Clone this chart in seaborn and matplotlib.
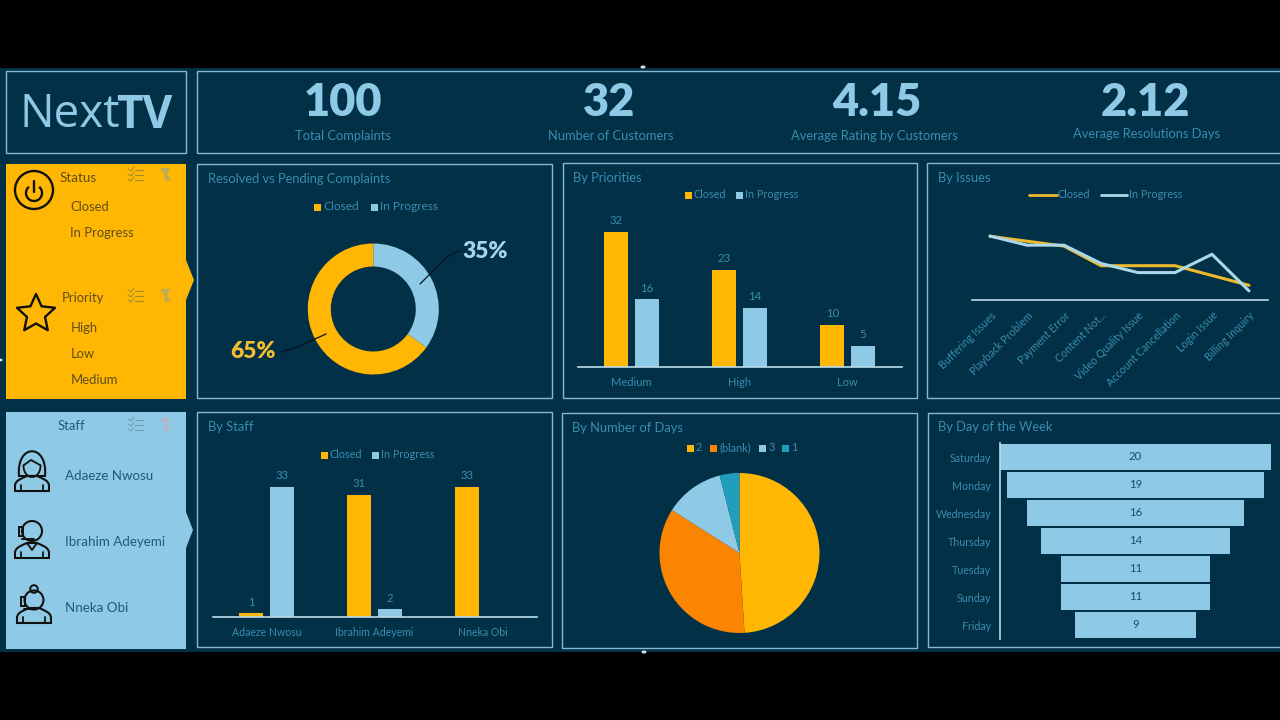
import matplotlib
matplotlib.use('Agg')
import matplotlib.pyplot as plt
import seaborn as sns
import pandas as pd
from matplotlib.patches import Rectangle, Circle, Ellipse, Polygon, Arc, PathPatch
from matplotlib.path import Path
import math

# data
kpi_values = ['100', '32', '4.15', '2.12']
kpi_labels = ['Total Complaints', 'Number of Customers', 'Average Rating by Customers', 'Average Resolutions Days']

status_names = ['In Progress', 'Closed']
status_share = [35, 65]

priority_names = ['Medium', 'High', 'Low']
priority_closed = [32, 23, 10]
priority_progress = [16, 14, 5]

issue_names = ['Buffering Issues', 'Playback Problem', 'Payment Error', 'Content Not...',
               'Video Quality Issue', 'Account Cancellation', 'Login Issue', 'Billing Inquiry']
issue_closed = [13, 12, 11, 7, 7, 7, 5, 3]
issue_progress = [7, 6, 6, 4, 3, 3, 5, 1]

staff_names = ['Adaeze Nwosu', 'Ibrahim Adeyemi', 'Nneka Obi']
staff_closed = [1, 31, 33]
staff_progress = [33, 2, None]

days_names = ['2', '(blank)', '3', '1']
days_share = [49, 35, 12, 4]

week_names = ['Saturday', 'Monday', 'Wednesday', 'Thursday', 'Tuesday', 'Sunday', 'Friday']
week_counts = [20, 19, 16, 14, 11, 11, 9]

# colours
BG = '#023047'
GOLD = '#FFB703'
ORANGE = '#FB8500'
SKY = '#8ECAE6'
TEAL = '#219EBC'
BORDER = '#84BAD4'
LABEL = '#3A8DAD'
AXIS = '#BBDCEB'
W, H = 1280, 720

sns.set_theme(style='white', rc={'axes.facecolor': 'none', 'figure.facecolor': 'black'})
plt.rcParams['font.family'] = ['Lato', 'DejaVu Sans']

fig = plt.figure(figsize=(W / 100, H / 100), dpi=100)


def px_axes(left, top, right, bottom, zorder=2):
    ax = fig.add_axes([left / W, 1 - bottom / H, (right - left) / W, (bottom - top) / H], zorder=zorder)
    ax.patch.set_alpha(0)
    return ax


def clean(ax, keep=('bottom',)):
    for name, spine in ax.spines.items():
        spine.set_visible(name in keep)
        spine.set_color(AXIS)
        spine.set_linewidth(1.2)
    ax.set_xlabel('')
    ax.set_ylabel('')


# back layer holds the panels, front layer holds text and icons
back = px_axes(0, 0, W, H, zorder=0)
back.set_xlim(0, W)
back.set_ylim(H, 0)
back.axis('off')
front = px_axes(0, 0, W, H, zorder=10)
front.set_xlim(0, W)
front.set_ylim(H, 0)
front.axis('off')

back.add_patch(Rectangle((0, 68), W, 584, color=BG, lw=0))
panels = [(6, 71, 186, 153), (197, 71, 1290, 153), (197, 164, 552, 398), (563, 163, 917, 398),
          (927, 163, 1290, 398), (197, 412, 552, 647), (562, 413, 917, 648), (928, 413, 1290, 647)]
for x0, y0, x1, y1 in panels:
    back.add_patch(Rectangle((x0, y0), x1 - x0, y1 - y0, fill=False, ec=BORDER, lw=1))

back.add_patch(Polygon([(6, 164), (186, 164), (186, 260), (194, 280), (186, 300), (186, 399), (6, 399)],
                       color=GOLD, lw=0))
back.add_patch(Polygon([(6, 412), (186, 412), (186, 512), (193, 530), (186, 548), (186, 649), (6, 649)],
                       color=SKY, lw=0))
# small handles on the frame of the screenshot
for hx, hy in [(643, 67), (644, 652), (0, 360)]:
    back.add_patch(Ellipse((hx, hy), 5, 3, color='#D8E4EA', lw=0))


def txt(x, y, s, size=8.8, color=LABEL, ha='left', weight='normal', **kw):
    return front.text(x, y, s, fontsize=size, color=color, ha=ha, va='center', fontweight=weight, **kw)


# logo and kpi strip
txt(19, 115, 'Next', size=33, color=SKY, family=['Open Sans'])
txt(116, 115, 'TV', size=33, color=SKY, weight='bold', family=['Open Sans'])
kpi_value_x = [343, 609, 877, 1145]
kpi_label_x = [343, 611, 874, 1147]
kpi_label_y = [136, 136, 136, 134]
for i in range(4):
    txt(kpi_value_x[i], 103, kpi_values[i], size=32.5, color=SKY, ha='center', weight='heavy')
    txt(kpi_label_x[i], kpi_label_y[i], kpi_labels[i], size=9.3, ha='center')

# panel titles
titles = [(207.5, 179, 'Resolved vs Pending Complaints'), (573, 178, 'By Priorities'), (938, 178, 'By Issues'),
          (207.5, 427, 'By Staff'), (572, 428, 'By Number of Days'), (938, 427, 'By Day of the Week')]
for x, y, s in titles:
    txt(x, y, s, size=9.3)


def legend_square(x, y, color, label, size=7.8):
    front.add_patch(Rectangle((x - 3.5, y - 3.5), 7, 7, color=color, lw=0))
    txt(x + 6, y - 0.5, label, size=size)


legend_square(317, 207, GOLD, 'Closed', size=8.6)
legend_square(374, 207, SKY, 'In Progress', size=8.6)
legend_square(688, 195, GOLD, 'Closed')
legend_square(739, 195, SKY, 'In Progress')
legend_square(324, 455, GOLD, 'Closed')
legend_square(375, 455, SKY, 'In Progress')
legend_square(690, 448, GOLD, '2')
legend_square(713, 448, ORANGE, '(blank)')
legend_square(762, 448, SKY, '3')
legend_square(785, 448, TEAL, '1')
front.plot([1029, 1057], [195, 195], color='#EDB92E', lw=2, solid_capstyle='round')
front.plot([1101, 1127], [195, 195], color='#AAD7EA', lw=2, solid_capstyle='round')
txt(1058, 194.5, 'Closed', size=7.8)
txt(1129, 194.5, 'In Progress', size=7.8)

# donut
ax = px_axes(373.3 - 65.5, 309 - 65.5, 373.3 + 65.5, 309 + 65.5)
ax.pie(status_share, colors=[SKY, GOLD], startangle=90, counterclock=False, radius=1,
       wedgeprops=dict(width=23 / 65.5, linewidth=0))
ax.set_xlim(-1, 1)
ax.set_ylim(-1, 1)
front.plot([420, 447, 458], [284, 257, 251], color='#01141f', lw=0.9)
front.plot([326, 295, 281], [334, 348, 352], color='#01141f', lw=0.9)
txt(485, 252, f'{status_share[0]}%', size=16.5, color='#A5D5EA', ha='center', weight='heavy')
txt(253, 352, f'{status_share[1]}%', size=16.5, color='#F4BE2E', ha='center', weight='heavy')


def grouped_bars(ax, names, closed, progress, ymax, size):
    frame = pd.DataFrame({
        'name': names * 2,
        'status': ['Closed'] * len(names) + ['In Progress'] * len(names),
        'count': closed + progress,
    })
    frame['count'] = pd.to_numeric(frame['count'])
    sns.barplot(data=frame, x='name', y='count', hue='status', order=names, hue_order=['Closed', 'In Progress'],
                palette=[GOLD, SKY], width=0.565, gap=0.2, saturation=1, legend=False, ax=ax, linewidth=0)
    ax.set_ylim(0, ymax)
    ax.set_yticks([])
    clean(ax)
    ax.tick_params(axis='x', length=0, pad=7, labelsize=size, labelcolor=LABEL)
    for container in ax.containers:
        ax.bar_label(container, padding=4, fontsize=8.2, color=LABEL)


ax = px_axes(577.5, 200, 901.5, 367)
grouped_bars(ax, priority_names, priority_closed, priority_progress, 167 / 4.22, 8)
ax = px_axes(212.5, 460, 536.5, 617)
grouped_bars(ax, staff_names, staff_closed, staff_progress, 157 / 3.94, 7.6)

# issues line chart, the two series have separate scales
ax = px_axes(971.5, 221.6, 1267.5, 300)
sns.lineplot(x=issue_names, y=issue_closed, sort=False, color='#EDB92E', lw=2.2, ax=ax, legend=False)
ax.set_xlim(-0.5, 7.5)
ax.set_ylim(0, 16)
ax.set_yticks([])
clean(ax)
ax.tick_params(axis='x', length=0, pad=7, labelsize=7.7, labelcolor=LABEL)
ax.set_xticks(range(len(issue_names)))
ax.set_xticklabels(issue_names, rotation=45, ha='right', va='top', rotation_mode='anchor')
ax2 = ax.twinx()
ax2.patch.set_alpha(0)
sns.lineplot(x=list(range(len(issue_names))), y=issue_progress, sort=False, color='#AAD7EA', lw=2.2, ax=ax2, legend=False)
ax2.set_ylim(0, 16 * 4.9 / 9.14)
ax2.set_yticks([])
clean(ax2, keep=())

# pie
ax = px_axes(739.5 - 80, 553 - 80, 739.5 + 80, 553 + 80)
ax.pie(days_share, colors=[GOLD, ORANGE, SKY, TEAL], startangle=90, counterclock=False, radius=1,
       wedgeprops=dict(linewidth=0))
ax.set_xlim(-1, 1)
ax.set_ylim(-1, 1)

# funnel, bars are centred on zero
ax = px_axes(1000, 443, 1271, 639)
sns.barplot(x=week_counts, y=week_names, order=week_names, orient='h', color=SKY, saturation=1, width=0.93,
            linewidth=0, ax=ax)
for bar, value in zip(ax.patches, week_counts):
    bar.set_x(-value / 2)
ax.set_xlim(-10, 10)
ax.set_ylim(6.5, -0.5)
ax.set_xticks([])
clean(ax, keep=('left',))
ax.tick_params(axis='y', length=0, pad=6.5, labelsize=7.7, labelcolor=LABEL)
ax.bar_label(ax.containers[0], label_type='center', fontsize=8.2, color='#1B4F6B')

# slicers
DARK_GOLD = '#5E4D1A'
DARK_SKY = '#1F5A7A'
txt(60, 178, 'Status', size=9.6, color=DARK_GOLD)
txt(70, 207, 'Closed', size=9.4, color=DARK_GOLD)
txt(70, 233, 'In Progress', size=9.4, color=DARK_GOLD)
txt(62, 298, 'Priority', size=9.4, color=DARK_GOLD)
txt(71, 328, 'High', size=9.4, color=DARK_GOLD)
txt(71, 354, 'Low', size=9.4, color=DARK_GOLD)
txt(71, 380, 'Medium', size=9.4, color=DARK_GOLD)
txt(71, 426, 'Staff', size=9.4, color=DARK_SKY, ha='center')
for name, y in zip(staff_names, [476, 542, 608]):
    txt(65, y, name, size=9.6, color=DARK_SKY)


def slicer_buttons(y, tone, filter_tone):
    # multi select and clear filter buttons
    for off in (2, 7, 12):
        front.plot([128, 131, 134], [y + off - 1, y + off + 1, y + off - 3], color=tone, lw=0.7)
        front.plot([135, 143], [y + off, y + off], color=tone, lw=0.8)
    front.add_patch(Polygon([(160, y), (171, y), (167, y + 6), (171, y + 12), (165, y + 13), (164, y + 6)],
                            color=filter_tone, lw=0))


slicer_buttons(168, '#A08A2C', '#C2AB52')
slicer_buttons(289, '#A08A2C', '#C2AB52')
slicer_buttons(418, '#6C9CB6', '#B4B6C6')

# power icon
front.add_patch(Circle((34, 190), 19, fill=False, ec='#111111', lw=1.7))
front.add_patch(Arc((34, 193), 16, 16, theta1=-50, theta2=230, ec='#111111', lw=1.7))
front.plot([34, 34], [181, 192], color='#111111', lw=1.7)

# star icon
star = []
for k in range(10):
    radius = 20 if k % 2 == 0 else 9.5
    angle = math.radians(-90 + 36 * k)
    star.append((36 + radius * math.cos(angle), 314 + radius * math.sin(angle)))
front.add_patch(Polygon(star, closed=True, fill=False, ec='#111111', lw=1.7, joinstyle='round'))


def shoulders(cx, b):
    verts = [(cx - 17, b), (cx - 17, b - 5), (cx - 17, b - 11), (cx - 9, b - 13), (cx - 5, b - 15),
             (cx + 5, b - 15), (cx + 9, b - 13), (cx + 17, b - 11), (cx + 17, b - 5), (cx + 17, b), (cx - 17, b)]
    codes = [Path.MOVETO, Path.LINETO, Path.CURVE4, Path.CURVE4, Path.CURVE4, Path.LINETO,
             Path.CURVE4, Path.CURVE4, Path.CURVE4, Path.LINETO, Path.CLOSEPOLY]
    front.add_patch(PathPatch(Path(verts, codes), fill=False, ec='#111111', lw=1.5))
    front.plot([cx - 11, cx - 11], [b, b - 6], color='#111111', lw=1.3)
    front.plot([cx + 11, cx + 11], [b, b - 6], color='#111111', lw=1.3)


# agent with bob hair
shoulders(32, 491)
hair = Path([(19, 476), (16, 443), (48, 443), (45, 476), (19, 476)],
            [Path.MOVETO, Path.CURVE4, Path.CURVE4, Path.CURVE4, Path.CLOSEPOLY])
front.add_patch(PathPatch(hair, fill=False, ec='#111111', lw=1.5))
front.add_patch(Arc((32, 466), 17, 22, theta1=-10, theta2=190, ec='#111111', lw=1.3))
front.plot([24, 31, 40], [465, 460, 465], color='#111111', lw=1.3)
# agent with headset
shoulders(32, 558)
front.add_patch(Circle((32, 531), 10, fill=False, ec='#111111', lw=1.5))
front.add_patch(Rectangle((19, 527), 4, 9, fill=False, ec='#111111', lw=1.4))
front.plot([22, 34], [539, 539], color='#111111', lw=1.4)
front.plot([27, 32, 37], [543, 550, 543], color='#111111', lw=1.3)
# agent with bun
shoulders(34, 623)
front.add_patch(Circle((34, 589), 3.8, fill=False, ec='#111111', lw=1.4))
front.add_patch(Circle((34, 600), 9.5, fill=False, ec='#111111', lw=1.5))
front.add_patch(Rectangle((21, 597), 4, 9, fill=False, ec='#111111', lw=1.4))
front.plot([24, 35], [609, 609], color='#111111', lw=1.4)

plt.savefig('out.png', dpi=100, facecolor='black')
